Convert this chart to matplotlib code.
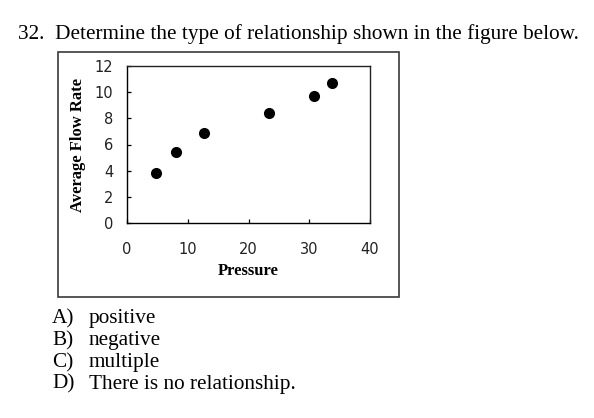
import matplotlib
matplotlib.use("Agg")
import matplotlib.pyplot as plt
from matplotlib.patches import Rectangle
from matplotlib import font_manager

pressure = [4.8, 8.0, 12.6, 23.4, 30.8, 33.7]
flow_rate = [3.84, 5.44, 6.87, 8.43, 9.67, 10.69]
x_ticks = [0, 10, 20, 30, 40]
y_ticks = [0, 2, 4, 6, 8, 10, 12]
title = "32.  Determine the type of relationship shown in the figure below."
option_letters = ["A)", "B)", "C)", "D)"]
option_texts = ["positive", "negative", "multiple", "There is no relationship."]

names = {f.name for f in font_manager.fontManager.ttflist}
tick_font = "Liberation Sans Narrow" if "Liberation Sans Narrow" in names else "DejaVu Sans"
serif = ["Liberation Serif", "DejaVu Serif"]

W, H = 594, 418
fig = plt.figure(figsize=(W / 100, H / 100), dpi=100)

def fx(px):
    return px / W

def fy(py):
    return 1 - py / H

# outer frame
fig.patches.append(Rectangle((fx(58), fy(297)), fx(399) - fx(58), fy(52) - fy(297),
                             transform=fig.transFigure, fill=False,
                             edgecolor="#3a3a3a", linewidth=1.2))

ax = fig.add_axes([fx(127), fy(223), fx(370) - fx(127), fy(66) - fy(223)])
ax.scatter(pressure, flow_rate, s=64, color="black", zorder=3, linewidths=0)
ax.set_xlim(0, 40)
ax.set_ylim(0, 12)
ax.set_xticks(x_ticks)
ax.set_yticks(y_ticks)
for s in ["top", "right"]:
    ax.spines[s].set_color("#222222")
for s in ["left", "bottom"]:
    ax.spines[s].set_color("black")
for s in ax.spines.values():
    s.set_linewidth(1.0)
ax.tick_params(axis="both", direction="in", length=3, width=0.9, colors="black")
ax.tick_params(axis="x", pad=14)
ax.tick_params(axis="y", pad=10)
for lab in ax.get_xticklabels() + ax.get_yticklabels():
    lab.set_fontfamily(tick_font)
    lab.set_fontsize(10.5)
    lab.set_color("#222222")
ax.set_xlabel("Pressure", fontfamily=serif, fontweight="bold", fontsize=12, labelpad=4)
ax.set_ylabel("Average Flow Rate", fontfamily=serif, fontweight="bold", fontsize=12, labelpad=6)

fig.text(fx(18), fy(34), title, fontfamily=serif, fontsize=15.3, va="center", ha="left")
ys = [319, 341, 363, 384]
for y, let, opt in zip(ys, option_letters, option_texts):
    fig.text(fx(52), fy(y), let, fontfamily=serif, fontsize=15.3, va="center", ha="left")
    fig.text(fx(89), fy(y), opt, fontfamily=serif, fontsize=15.3, va="center", ha="left")

fig.savefig("out.png", dpi=100)
